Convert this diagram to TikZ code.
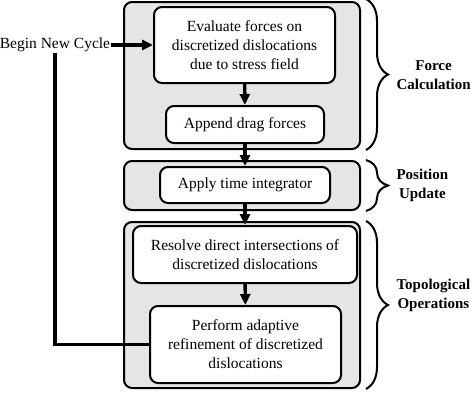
\documentclass[tikz,border=0pt]{standalone}
\usepackage{fontspec}
\setmainfont{Liberation Serif}
\usetikzlibrary{arrows.meta,decorations.pathreplacing}
\begin{document}
\begin{tikzpicture}[x=1pt, y=-1pt, >={Triangle[length=11pt,width=10pt]},
  font=\fontsize{15.5}{19}\selectfont,
  group/.style={draw, line width=2pt, rounded corners=8pt, fill=gray!20, inner sep=0pt},
  stepbox/.style={draw, line width=2pt, rounded corners=8pt, fill=white, align=center, inner sep=0pt},
  flow/.style={line width=3.4pt},
  bracket/.style={decorate, decoration={brace, amplitude=22pt}, line width=2pt},
  label/.style={anchor=west, align=center, font=\fontsize{15}{19}\selectfont\bfseries}]
\useasboundingbox (0,0) rectangle (474,415);

% grey stages
\node[group, minimum width=236, minimum height=147](g1) at (242,75.5){};
\node[group, minimum width=236, minimum height=49](g2) at (242,185.5){};
\node[group, minimum width=236, minimum height=166](g3) at (242,305){};

% steps
\node[stepbox, minimum width=181, minimum height=76](evaluate) at (244.5,45){Evaluate forces on\\discretized dislocations\\due to stress field};
\node[stepbox, minimum width=158, minimum height=37](append) at (245,124.5){Append drag forces};
\node[stepbox, minimum width=170, minimum height=36](apply) at (245,185){Apply time integrator};
\node[stepbox, minimum width=224, minimum height=57](resolve) at (245,254.5){Resolve direct intersections of\\discretized dislocations};
\node[stepbox, minimum width=191, minimum height=77](perform) at (245.5,344.5){Perform adaptive\\refinement of discretized\\dislocations};
\node[inner sep=1pt](begin) at (55,45){Begin New Cycle};

\draw[flow,->](evaluate)--(append);
\draw[flow,->](append)--(apply);
\draw[flow,->](apply)--(resolve);
\draw[flow,->](resolve)--(perform);
\draw[flow,->](begin)--(evaluate);
\draw[flow](perform.west)-|(begin.south);

% braces
\draw[bracket]([xshift=5pt,yshift=2pt]g1.north east)--([xshift=5pt]g1.south east);
\draw[bracket]([xshift=5pt]g2.north east)--([xshift=5pt]g2.south east);
\draw[bracket]([xshift=5pt]g3.north east)--([xshift=5pt]g3.south east);
\node[label](force) at (393,75){Force\\Calculation};
\node[label](position) at (393,185){Position\\Update};
\node[label](topo) at (393,295){Topological\\Operations};
\end{tikzpicture}
\end{document}
